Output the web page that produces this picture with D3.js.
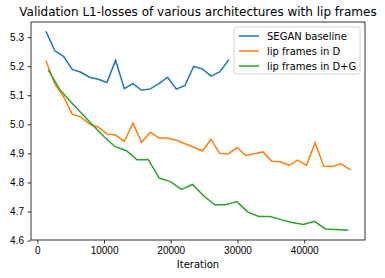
<!DOCTYPE html>
<html>
<head>
<meta charset="utf-8">
<script src="https://cdn.jsdelivr.net/npm/d3@7"></script>
<style>
  body { margin: 0; background: #fff; }
  svg { display: block; font-family: "DejaVu Sans", sans-serif; }
  .axis path, .axis line { stroke: #000; stroke-width: 0.8; }
  .axis text { font-size: 10px; fill: #000; }
</style>
</head>
<body>
<div id="chart"></div>
<script>
// iterations at which each model was evaluated
var segIters = d3.range(22).map(function(k) { return 1330 + 1300 * k; });
var lipDIters = d3.range(36).map(function(k) { return 1330 + 1300 * k; });
var lipDGIters = d3.range(28).map(function(k) { return 1680 + 1660 * k; });

// L1 losses
var segValues = [5.318, 5.253, 5.234, 5.189, 5.179, 5.162, 5.155, 5.144, 5.220, 5.123,
  5.140, 5.117, 5.122, 5.140, 5.162, 5.121, 5.134, 5.199, 5.191, 5.166, 5.180, 5.220];
var lipDValues = [5.217, 5.138, 5.095, 5.035, 5.025, 5.001, 4.990, 4.967, 4.963, 4.941,
  5.004, 4.938, 4.973, 4.953, 4.953, 4.945, 4.933, 4.921, 4.908, 4.948,
  4.900, 4.898, 4.920, 4.893, 4.899, 4.905, 4.873, 4.871, 4.859, 4.877,
  4.859, 4.937, 4.856, 4.855, 4.864, 4.845];
var lipDGValues = [5.186, 5.121, 5.078, 5.037, 4.997, 4.958, 4.923, 4.910, 4.878, 4.879,
  4.815, 4.803, 4.776, 4.793, 4.754, 4.723, 4.723, 4.734, 4.698, 4.683,
  4.683, 4.672, 4.662, 4.655, 4.666, 4.640, 4.638, 4.636];

var seriesNames = ["SEGAN baseline", "lip frames in D", "lip frames in D+G"];
var seriesColors = ["#1f77b4", "#ff7f0e", "#2ca02c"];
var xTicks = [0, 10000, 20000, 30000, 40000];
var yTicks = [4.6, 4.7, 4.8, 4.9, 5.0, 5.1, 5.2, 5.3];

var aSeries = [
  {key: seriesNames[0], iters: segIters, vals: segValues},
  {key: seriesNames[1], iters: lipDIters, vals: lipDValues},
  {key: seriesNames[2], iters: lipDGIters, vals: lipDGValues}
].map(function(s) {
  return {key: s.key, data: s.iters.map(function(it, i) { return {it: it, val: s.vals[i]}; })};
});

var W = 385, H = 278;
var MARGIN = {top: 22, right: 20, bottom: 38, left: 31};
var WIDTH = W - MARGIN.left - MARGIN.right,
    HEIGHT = H - MARGIN.top - MARGIN.bottom;

var oSvg = d3.select("#chart").append("svg").attr("width", W).attr("height", H);

// matplotlib style 5% padding around the data
var allPts = d3.merge(aSeries.map(function(s) { return s.data; }));
var xExt = d3.extent(allPts, function(d) { return d.it; });
var yExt = d3.extent(allPts, function(d) { return d.val; });
var xPad = (xExt[1] - xExt[0]) * 0.05, yPad = (yExt[1] - yExt[0]) * 0.05;

var x = d3.scaleLinear().domain([xExt[0] - xPad, xExt[1] + xPad]).range([0, WIDTH]);
var y = d3.scaleLinear().domain([yExt[0] - yPad, yExt[1] + yPad]).range([HEIGHT, 0]);
var color = d3.scaleOrdinal().domain(seriesNames).range(seriesColors);

var g = oSvg.append("g").attr("transform", "translate(" + MARGIN.left + "," + MARGIN.top + ")");

var line = d3.line()
  .x(function(d) { return x(d.it); })
  .y(function(d) { return y(d.val); });

g.selectAll(".line")
  .data(aSeries)
  .enter().append("path")
  .attr("class", "line")
  .attr("d", function(d) { return line(d.data); })
  .attr("fill", "none")
  .attr("stroke-width", 1.5)
  .attr("stroke-linecap", "square")
  .attr("stroke", function(d) { return color(d.key); });

// axes
var xAxis = d3.axisBottom(x).tickValues(xTicks).tickFormat(d3.format("d")).tickSize(3.5).tickPadding(3.5);
var yAxis = d3.axisLeft(y).tickValues(yTicks).tickFormat(d3.format(".1f")).tickSize(3.5).tickPadding(3.5);

g.append("g").attr("class", "x axis").attr("transform", "translate(0," + HEIGHT + ")").call(xAxis)
  .call(function(a) { a.select(".domain").remove(); });
g.append("g").attr("class", "y axis").call(yAxis)
  .call(function(a) { a.select(".domain").remove(); });

// frame
g.append("rect")
  .attr("width", WIDTH).attr("height", HEIGHT)
  .attr("fill", "none").attr("stroke", "#000").attr("stroke-width", 0.8);

// labels
oSvg.append("text")
  .attr("x", MARGIN.left + WIDTH / 2).attr("y", 16)
  .attr("text-anchor", "middle").attr("font-size", 12)
  .text("Validation L1-losses of various architectures with lip frames");

oSvg.append("text")
  .attr("x", MARGIN.left + WIDTH / 2).attr("y", 268)
  .attr("text-anchor", "middle").attr("font-size", 10)
  .text("Iteration");

// legend
var legend = g.append("g").attr("transform", "translate(" + (WIDTH - 131) + ",5)");
legend.append("rect")
  .attr("width", 126).attr("height", 47).attr("rx", 2)
  .attr("fill", "#fff").attr("fill-opacity", 0.8)
  .attr("stroke", "#ccc").attr("stroke-width", 0.8);
var items = legend.selectAll(".item").data(seriesNames).enter().append("g")
  .attr("transform", function(d, i) { return "translate(0," + (9 + i * 15) + ")"; });
items.append("line")
  .attr("x1", 5).attr("x2", 25)
  .attr("stroke-width", 1.5)
  .attr("stroke", function(d) { return color(d); });
items.append("text")
  .attr("x", 33).attr("y", 3.5).attr("font-size", 10)
  .text(function(d) { return d; });
</script>
</body>
</html>
